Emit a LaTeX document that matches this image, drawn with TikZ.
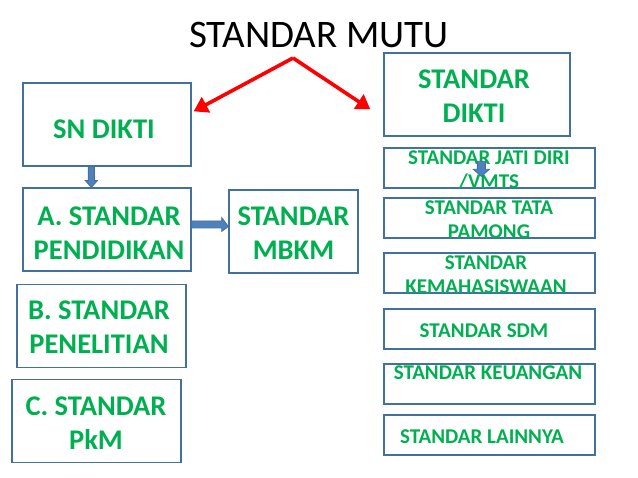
\documentclass[tikz,border=0pt]{standalone}
\usepackage{fontspec}
\setmainfont{Carlito}
\usetikzlibrary{calc,arrows.meta}
\definecolor{boxline}{HTML}{41719C}
\definecolor{txtgreen}{HTML}{00B050}
\definecolor{arrowfill}{HTML}{4F81BD}
\tikzset{
  box/.style={draw=boxline, line width=1.3pt, minimum width=#1, inner sep=0pt},
  bigbox/.style={box=168pt, minimum height=83pt},
  smallbox/.style={box=211pt, minimum height=40pt},
  bigtxt/.style={text=txtgreen, font=\fontsize{28.5}{34}\selectfont\bfseries, align=center, inner sep=0pt},
  smalltxt/.style={text=txtgreen, font=\fontsize{21}{24}\selectfont\bfseries, align=center, inner sep=0pt},
  redarrow/.style={draw=red, line width=3.6pt, -{Triangle[length=14pt,width=17pt]}},
  blockarrow/.style={draw=boxline, fill=arrowfill, line width=0.8pt},
}
\begin{document}
\begin{tikzpicture}[x=1pt,y=-1pt]
\useasboundingbox (0,0) rectangle (638,478);
% title
\node[font=\fontsize{39}{44}\selectfont, inner sep=0pt] (title) at (319,35) {STANDAR MUTU};
\coordinate (apex) at (293,58);
% left column
\node[bigbox] (sn) at (107,124.5) {};
\node[bigtxt] at (104,129) {SN DIKTI};
\node[bigbox] (a) at (107,229.5) {};
\node[bigtxt] at (109,233.5) {A. STANDAR\\PENDIDIKAN};
\node[box=129pt, minimum height=83pt] (mbkm) at (293.5,231.5) {};
\node[bigtxt] at (293.5,233.5) {STANDAR\\MBKM};
\node[bigbox, minimum width=169pt] (b) at (101.5,326) {};
\node[bigtxt] at (99,327) {B. STANDAR\\PENELITIAN};
\node[bigbox, minimum width=169pt] (c) at (96.5,421) {};
\node[bigtxt] at (96,423) {C. STANDAR\\PkM};
% right column
\node[box=186pt, minimum height=83pt] (dikti) at (477,94.5) {};
\node[bigtxt] at (474,96) {STANDAR\\DIKTI};
\node[smallbox] (jati) at (489.5,168) {};
\node[smalltxt] at (489,170.5) {STANDAR JATI DIRI\\/VMTS};
\node[smallbox] (tata) at (489.5,218) {};
\node[smalltxt] at (489,219.5) {STANDAR TATA\\PAMONG};
\node[smallbox] (kema) at (489.5,273) {};
\node[smalltxt] at (486,275) {STANDAR\\KEMAHASISWAAN};
\node[smallbox] (sdm) at (489.5,329) {};
\node[smalltxt] at (484,331) {STANDAR SDM};
\node[smallbox] (keu) at (489.5,384) {};
\node[smalltxt] at (488,373) {STANDAR KEUANGAN};
\node[smallbox] (lain) at (489.5,435) {};
\node[smalltxt] at (482,437) {STANDAR LAINNYA};
% red arrows
\draw[redarrow] (apex) -- ($(sn.north east)+(2,29)$);
\draw[redarrow] (apex) -- ($(dikti.north west)+(-13,57)$);
% blue block arrows
\path ($(sn.south west)+(69,0)$) coordinate (d1);
\draw[blockarrow] ($(d1)+(-3,0)$) -- ($(d1)+(3,0)$) -- ($(d1)+(3,14)$) -- ($(d1)+(6,14)$) -- ($(a.north west)+(69,0)$) -- ($(d1)+(-6,14)$) -- ($(d1)+(-3,14)$) -- cycle;
\path ($(a.east)+(0,-5)$) coordinate (r1);
\draw[blockarrow] ($(r1)+(0,-3.5)$) -- ($(r1)+(30,-3.5)$) -- ($(r1)+(30,-7)$) -- ($(mbkm.west)+(0,-5)$) -- ($(r1)+(30,7)$) -- ($(r1)+(30,3.5)$) -- ($(r1)+(0,3.5)$) -- cycle;
\path ($(jati.north west)+(98,14)$) coordinate (s1);
\draw[blockarrow] ($(s1)+(-4,0)$) -- ($(s1)+(4,0)$) -- ($(s1)+(4,8)$) -- ($(s1)+(8,8)$) -- ($(s1)+(0,15)$) -- ($(s1)+(-8,8)$) -- ($(s1)+(-4,8)$) -- cycle;
\end{tikzpicture}
\end{document}
